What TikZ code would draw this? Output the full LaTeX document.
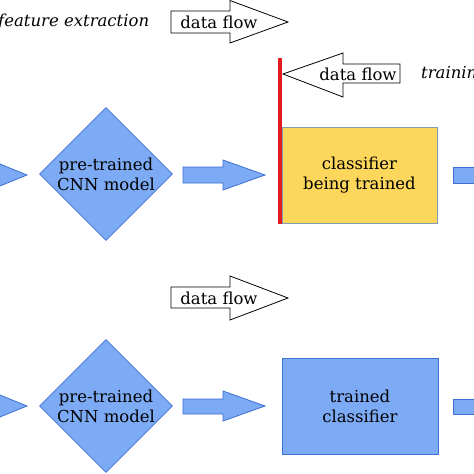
\documentclass[tikz,border=0pt]{standalone}
\usepackage{fontspec}
\setmainfont{DejaVu Serif}
\usetikzlibrary{shapes.geometric}
\definecolor{bfill}{HTML}{7DAAF5}
\definecolor{bline}{HTML}{3D70D2}
\definecolor{yfill}{HTML}{FDD75C}
\definecolor{yline}{HTML}{7F9DB5}
\definecolor{redl}{HTML}{E01B22}
\tikzset{
  lbl/.style={font=\fontsize{16.5}{20}\selectfont, align=center, inner sep=0pt},
  ital/.style={font=\fontsize{16.5}{20}\selectfont\itshape, inner sep=0pt},
  flowarrow/.style={draw=black, fill=white, line width=0.8pt, line join=miter},
  bluearrow/.style={draw=bline, fill=bfill, line width=0.8pt, line join=miter},
  cnn/.style={diamond, draw=bline, fill=bfill, line width=0.8pt, minimum width=133pt, minimum height=133pt, inner sep=0pt, lbl},
  ybox/.style={draw=yline, fill=yfill, line width=0.8pt, minimum width=155pt, minimum height=96pt, lbl},
  bbox/.style={draw=bline, fill=bfill, line width=0.8pt, minimum width=156pt, minimum height=96pt, lbl}
}
\begin{document}
\begin{tikzpicture}[x=1pt,y=-1pt]
\useasboundingbox (0,0) rectangle (474,474);
\clip (0,0) rectangle (474,474);
\fill[white] (0,0) rectangle (474,474);

% ---- top section ----
\node[ital, anchor=west] (fe) at (-2,22) {feature extraction};
\draw[flowarrow] (171,11) -- (230,11) -- (230,0.5) -- (288,22) -- (230,43) -- (230,33) -- (171,33) -- cycle;
\node[lbl] (df1) at (219,22) {data flow};

\draw[flowarrow] (400,64) -- (343,64) -- (343,53) -- (283,74) -- (343,97) -- (343,83) -- (400,83) -- cycle;
\node[lbl] (df2) at (358,74) {data flow};
\node[ital, anchor=west] (tr) at (421,74) {training};

% left incoming arrow (cut)
\draw[bluearrow] (-60,167) -- (-10,167) -- (-10,160) -- (27,175) -- (-10,190) -- (-10,183) -- (-60,183) -- cycle;

\node[cnn] (cnn1) at (106,174) {pre-trained\\CNN model};

\draw[bluearrow] (183,167) -- (223,167) -- (223,160) -- (265,175) -- (223,190) -- (223,183) -- (183,183) -- cycle;

\node[ybox] (clf1) at (359.5,175) {classifier\\being trained};
\coordinate (rtop) at (280,58);
\coordinate (rbot) at (280,224);
\draw[redl, line width=4pt] (rtop) -- (rbot);

\draw[bluearrow] (453,167) -- (500,167) -- (500,183) -- (453,183) -- cycle;

% ---- bottom section ----
\draw[flowarrow] (171,287) -- (230,287) -- (230,276) -- (288,298) -- (230,320) -- (230,308) -- (171,308) -- cycle;
\node[lbl] (df3) at (219,298) {data flow};

\draw[bluearrow] (-60,399) -- (-10,399) -- (-10,391) -- (27,406) -- (-10,421) -- (-10,414) -- (-60,414) -- cycle;

\node[cnn] (cnn2) at (106,406) {pre-trained\\CNN model};

\draw[bluearrow] (183,399) -- (223,399) -- (223,391) -- (265,406) -- (223,421) -- (223,414) -- (183,414) -- cycle;

\node[bbox] (clf2) at (360,406) {trained\\classifier};

\draw[bluearrow] (453,399) -- (500,399) -- (500,414) -- (453,414) -- cycle;
\end{tikzpicture}
\end{document}
